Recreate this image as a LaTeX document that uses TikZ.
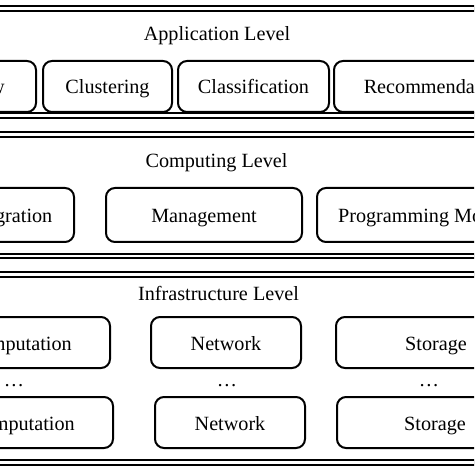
\documentclass[tikz,border=0pt]{standalone}
\usepackage{fontspec}
\setmainfont{Liberation Serif}
\usepackage{tikz}
\tikzstyle{block} = [draw, rectangle, rounded corners=4.5pt, line width=1pt, minimum height=25.5pt, text height=8.5pt, text depth=1pt, font=\fontsize{10.1}{12}\selectfont]
\tikzstyle{level} = [draw, line width=0.9pt, double, double distance=1.3pt]
\tikzstyle{title} = [text height=8.5pt, text depth=1pt, font=\fontsize{10.1}{12}\selectfont]

\begin{document}
\begin{tikzpicture}[x=0.5pt, y=-0.5pt]
	\useasboundingbox (0,0) rectangle (474,474);
	\clip (0,0) rectangle (474,474);
	% levels
	\draw[level] (-20,8.5) rectangle (494,115.5);
	\draw[level] (-20,134.5) rectangle (494,256);
	\draw[level] (-20,274.5) rectangle (494,462.5);
	% application level
	\node (APP_LEVEL) [title] at (217,33.5) {Application Level};
	\node (OVERVIEW) [block, minimum width=71pt] at (-35,86.5) {Overview};
	\node (CLUSTERING) [block, minimum width=64.5pt] at (107.5,86.5) {Clustering};
	\node (CLASSIFICATION) [block, minimum width=75.5pt] at (253.5,86.5) {Classification};
	\node (RECOMMENDATION) [block, minimum width=101pt] at (435,86.5) {Recommendation};
	% computing level
	\node (COMP_LEVEL) [title] at (216.5,160.5) {Computing Level};
	\node (INTEGRATION) [block, minimum width=66pt, minimum height=27pt] at (8,215) {Integration};
	\node (MANAGEMENT) [block, minimum width=98pt, minimum height=27pt] at (204,215) {Management};
	\node (PROG_MODEL) [block, minimum width=105.5pt, minimum height=27pt] at (422.5,215) {Programming Model};
	% infrastructure level
	\node (INFRA_LEVEL) [title] at (218.5,292.5) {Infrastructure Level};
	\node (COMPUTATION_1) [block, minimum width=91pt] at (19,342.5) {Computation};
	\node (NETWORK_1) [block, minimum width=75pt] at (226,342.5) {Network};
	\node (STORAGE_1) [block, minimum width=100pt] at (436,342.5) {Storage};
	\node (COMPUTATION_DOTS) [title, anchor=base] at (14,386) {\ldots};
	\node (NETWORK_DOTS) [title, anchor=base] at (227,386) {\ldots};
	\node (STORAGE_DOTS) [title, anchor=base] at (429,386) {\ldots};
	\node (COMPUTATION_N) [block, minimum width=91pt] at (22,422.5) {Computation};
	\node (NETWORK_N) [block, minimum width=75pt] at (230,422.5) {Network};
	\node (STORAGE_N) [block, minimum width=98pt] at (435,422.5) {Storage};
\end{tikzpicture}
\end{document}
